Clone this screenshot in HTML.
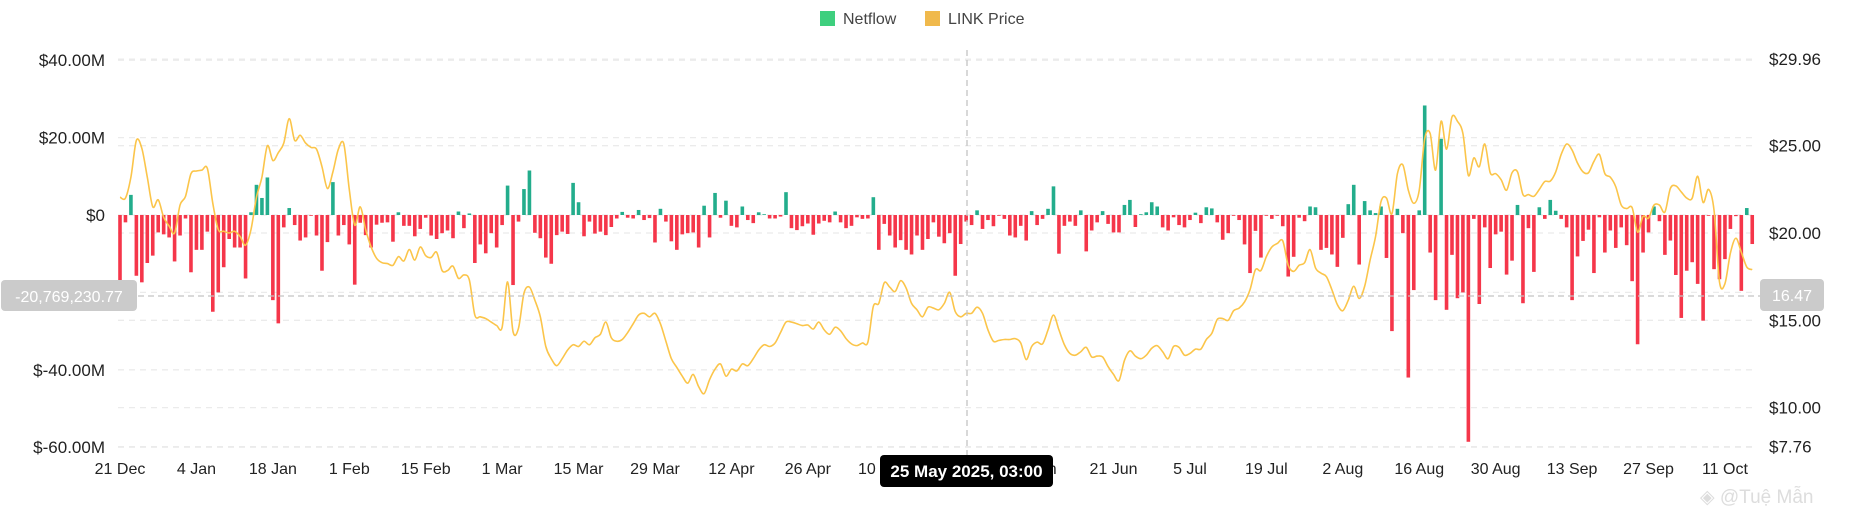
<!DOCTYPE html>
<html><head><meta charset="utf-8">
<style>
body{margin:0;background:#fff;width:1852px;height:525px;overflow:hidden;font-family:"Liberation Sans",sans-serif;}
svg{display:block}
</style></head>
<body>
<svg id="chart" width="1852" height="525">
<g id="grid"></g>
<g id="bars"></g>
<g id="line"></g>
<g id="axes"></g>
<g>
<rect x="820" y="11" width="15" height="15" fill="#3ecf7e"/>
<text x="843" y="24" font-size="16" fill="#444">Netflow</text>
<rect x="925" y="11" width="15" height="15" fill="#f0b94c"/>
<text x="948" y="24" font-size="16" fill="#444">LINK Price</text>
</g>
<g id="cross"></g>
<text x="1700" y="503" font-size="19" fill="#ddd" font-family="'Liberation Sans','Noto Sans CJK SC',sans-serif">◈ @Tuệ Mẫn</text>
</svg>
<script>
const netflow=[-24,-1.9,5.2,-15.7,-17.4,-12.4,-10.5,-4.5,-5,-5.8,-12,-5.3,-0.9,-14.8,-9,-9,-4.3,-25,-20,-13.5,-6.2,-8.4,-8.4,-16.4,0.7,7.8,4.4,9.7,-22,-28,-3.2,1.8,-2.6,-6.6,-5.8,-0.2,-5.3,-14.4,-7,8.5,
-5.3,-2.6,-7.6,-18,-2,-5.2,-8.4,-2.5,-2,-1.9,-6.9,0.7,-2.8,-2.8,-5.5,-3.6,-0.7,-5.3,-6.2,-4.7,-4,-6,0.9,-3.4,0.4,-12.4,-7.6,-9.9,-4.7,-8.4,-2.6,7.6,-18.1,-1.7,6.7,11.5,-4.6,-6,-11,-12.6,-5.2,-4.3,-4.9,
8.3,3.3,-5.5,-1.7,-4.8,-4.3,-5.2,-3.1,-0.9,0.8,-0.7,-0.9,1.3,-1.3,-0.8,-7.1,1.6,-1.7,-6.8,-9,-5,-4.7,-4.5,-8.4,2.4,-5.8,5.7,-0.7,3.7,-2.8,-3.2,2.2,-1.3,-2.1,0.7,0.2,-0.9,-0.9,-0.4,5.9,-3.4,-3.9,-2.9,
-2.2,-5.1,-2.2,-1.5,-1.9,0.9,-1.9,-3.4,-2.8,-0.6,-1,-0.9,4.6,-9,-2.3,-5.3,-8.4,-6.5,-9,-10.2,-5.3,-9,-6.2,-1.9,-5.6,-7.3,-4.7,-15.7,-7.5,-1.7,-2.6,1.2,-3.6,-1.3,-2.9,-0.2,-1,-5.3,-5.8,-2.8,-6.6,1,-2.6,-1,
1.6,7.4,-10,-2.8,-1.7,-2.8,1.2,-9.4,-4,-1.9,1,-2.3,-4.5,-4.5,2.6,3.9,-3.1,0.2,0.7,3.3,2.2,-3.2,-4,-0.6,-2.6,-3.2,-1.3,0.6,-2.1,2,1.7,-1.9,-6.4,-4.7,-0.2,-1.3,-7.6,-15,-4.1,-11,-0.2,-1,-0.2,-2.9,
-15.9,-10.8,-0.7,-1.6,2.2,2,-9,-8.5,-10.2,-13.4,-5.9,2.8,7.8,-12.8,3.6,1.2,0.5,2.2,-11.1,-30,1.6,-4.7,-42,-19.4,1.2,28.3,-9.7,-22,19.7,-24.5,-10.3,-21.5,-20,-58.6,-1,-23,-3.2,-13.7,-5,-4.3,-15.4,-11.8,2.6,-22.8,
-3.4,-14.7,2,-1,3.9,1.1,-1,-3.2,-22,-10.7,-6.7,-3.8,-15,-0.6,-9.7,-4,-8.5,-3.2,-7.8,-17.1,-33.4,-9.7,-4.5,2.2,-1.6,-10.3,-6.6,-15.5,-26.6,-14.4,-12.2,-17.8,-27.3,-0.1,-14,-16.6,-11.4,-3.6,-0.3,-19.6,1.8,-7.5];
const price=[22.05,22.0,23.2,25.3,24.85,23.2,21.5,21.9,20.9,20.4,20,21.6,22.1,23.4,23.55,23.6,23.7,21.7,20.2,20.1,20,20.1,19.8,19.3,20.2,22.05,23.2,25,24.15,24.6,25.15,26.55,25.3,25.6,25.15,24.9,24.8,23.8,22.55,23.5,
24.8,25.1,22.5,20.45,21.5,20.2,19.2,18.55,18.3,18.25,18.15,18.65,18.4,19.05,18.45,19.2,18.7,18.6,18.9,17.85,17.85,18.1,17.4,17.6,17.3,15.3,15.2,15.1,14.9,14.7,14.6,17.2,14.35,14.55,16.55,16.9,16.15,15.2,
13.5,12.8,12.4,12.8,13.3,13.6,13.5,13.8,13.6,14.0,14.2,14.9,14.0,13.8,13.9,14.3,14.8,15.3,15.4,15.2,15.4,14.8,13.8,12.8,12.3,11.8,11.4,11.9,11.2,10.8,11.6,12.2,12.5,11.8,12.2,12.1,12.5,12.4,12.8,13.3,13.6,13.5,13.7,14.3,14.9,14.9,14.8,14.7,
14.73,14.5,14.9,14.45,14.2,14.6,14.4,13.95,13.65,13.55,13.7,13.75,15.8,15.97,17.15,16.9,16.65,17.27,16.85,15.97,15.6,15.2,15.75,15.7,15.6,15.97,16.6,15.5,15.2,15.4,15.4,15.75,15.4,14.45,13.8,13.85,13.9,13.9,13.95,13.7,12.75,13.5,13.75,13.65,
14.45,15.3,14.45,13.6,13.1,13.0,13.2,13.45,12.9,12.95,12.9,12.35,11.9,11.55,12.7,13.25,12.95,12.8,13.0,13.4,13.55,13.2,12.8,13.5,13.45,13.0,13.1,13.35,13.35,13.9,14.25,15.05,15.1,15.0,15.55,15.7,16.05,16.75,17.9,17.85,18.65,19.2,19.4,19.55,
18.15,17.8,18.15,18.3,19.05,18.0,17.7,17.5,16.75,15.9,15.55,16.15,16.95,16.25,16.95,18.45,19.8,21.8,22.0,21.1,23.4,23.9,22.45,21.7,22.45,25.4,25.7,23.6,26.4,24.8,26.65,26.4,25.7,23.3,24.3,23.8,25.1,23.45,23.4,23.05,22.45,23.45,23.5,22.2,
22.2,22.1,22.5,22.95,22.97,23.5,24.5,25.1,24.75,24.0,23.5,23.45,24.1,24.5,23.4,23.2,22.65,21.6,21.4,21.45,20.05,20.95,20.85,21.6,21.6,21.2,22.55,22.7,22.35,22.0,22.0,23.25,21.75,22.5,21.3,17.2,17.1,18.85,19.7,18.9,18.05,17.9];
const leftTicks=[40,20,0,-20,-40,-60];
const leftTickLabels=["$40.00M","$20.00M","$0","","$-40.00M","$-60.00M"];
const rightTicks=[29.96,25,20,15,10,7.76];
const rightTickLabels=["$29.96","$25.00","$20.00","$15.00","$10.00","$7.76"];
const dateLabels=["21 Dec","4 Jan","18 Jan","1 Feb","15 Feb","1 Mar","15 Mar","29 Mar","12 Apr","26 Apr","10 May","24 May","7 Jun","21 Jun","5 Jul","19 Jul","2 Aug","16 Aug","30 Aug","13 Sep","27 Sep","11 Oct"];
const NS="http://www.w3.org/2000/svg";
const X0=118,X1=1753;
const xDay=d=>120+d*5.459;
const yFlow=v=>215-v*3.87;
const yPrice=p=>233-(p-20)*17.46;
function mk(tag,attrs,parent){const e=document.createElementNS(NS,tag);for(const k in attrs)e.setAttribute(k,attrs[k]);parent.appendChild(e);return e;}
const grid=document.getElementById('grid'),axes=document.getElementById('axes');
leftTicks.forEach((t,i)=>{
  const g=mk('line',{x1:X0,x2:X1,y1:yFlow(t),y2:yFlow(t),stroke:'#ebebeb','stroke-dasharray':'6 5','stroke-width':1.3},grid);
  
  
  if(leftTickLabels[i]){const tx=mk('text',{x:105,y:yFlow(t)+6,'text-anchor':'end','font-size':17,fill:'#222'},axes);tx.textContent=leftTickLabels[i];
  
  }
});
rightTicks.forEach((t,i)=>{
  const g=mk('line',{x1:X0,x2:X1,y1:yPrice(t),y2:yPrice(t),stroke:'#ebebeb','stroke-dasharray':'6 5','stroke-width':1.3},grid);
  
  
  const tx=mk('text',{x:1769,y:yPrice(t)+6,'font-size':17,fill:'#222'},axes);tx.textContent=rightTickLabels[i];
  
  
});
dateLabels.forEach((l,i)=>{
  const tx=mk('text',{x:xDay(i*14),y:474,'text-anchor':'middle','font-size':16,fill:'#222'},axes);tx.textContent=l;
  
  
});
const bars=document.getElementById('bars');
netflow.forEach((v,i)=>{
  const y=Math.min(yFlow(v),yFlow(0)),h=Math.abs(yFlow(v)-yFlow(0));
  const r=mk('rect',{x:xDay(i)-1.8,y:y,width:3.6,height:Math.max(h,0.8),fill:v>=0?'#23ad8c':'#f5364a'},bars);
  
  
});
const pts=price.map((p,i)=>[xDay(i),yPrice(p)]);
let d='M'+pts[0][0]+','+pts[0][1];
for(let i=0;i<pts.length-1;i++){
  const p0=pts[Math.max(0,i-1)],p1=pts[i],p2=pts[i+1],p3=pts[Math.min(pts.length-1,i+2)];
  const t=0.16;
  d+=' C'+(p1[0]+(p2[0]-p0[0])*t)+','+(p1[1]+(p2[1]-p0[1])*t)+' '+(p2[0]-(p3[0]-p1[0])*t)+','+(p2[1]-(p3[1]-p1[1])*t)+' '+p2[0]+','+p2[1];
}
const pl=mk('path',{d:d,fill:'none',stroke:'#fbc54a','stroke-width':1.6},document.getElementById('line'));


const cross=document.getElementById('cross');
const cv=mk('line',{x1:967,x2:967,y1:50,y2:456,stroke:'#c4c4c4','stroke-dasharray':'6 4','stroke-width':1.3},cross);


const ch=mk('line',{x1:X0,x2:1760,y1:296,y2:296,stroke:'#c4c4c4','stroke-dasharray':'6 4','stroke-width':1.3},cross);


const lb=mk('rect',{x:1,y:280,width:136,height:31,rx:4,fill:'#cbcbcb'},cross);


const lt=mk('text',{x:69,y:302,'text-anchor':'middle','font-size':16,fill:'#fff'},cross);lt.textContent='-20,769,230.77';


const rb=mk('rect',{x:1760,y:279,width:64,height:32,rx:4,fill:'#cbcbcb'},cross);


const rt=mk('text',{x:1792,y:301,'text-anchor':'middle','font-size':16,fill:'#fff'},cross);rt.textContent='16.47';


const tb=mk('rect',{x:880,y:455,width:173,height:32,rx:4,fill:'#000'},cross);


const tt=mk('text',{x:966.5,y:477,'text-anchor':'middle','font-size':17,'font-weight':'bold',fill:'#fff'},cross);tt.textContent='25 May 2025, 03:00';


</script>
</body></html>
